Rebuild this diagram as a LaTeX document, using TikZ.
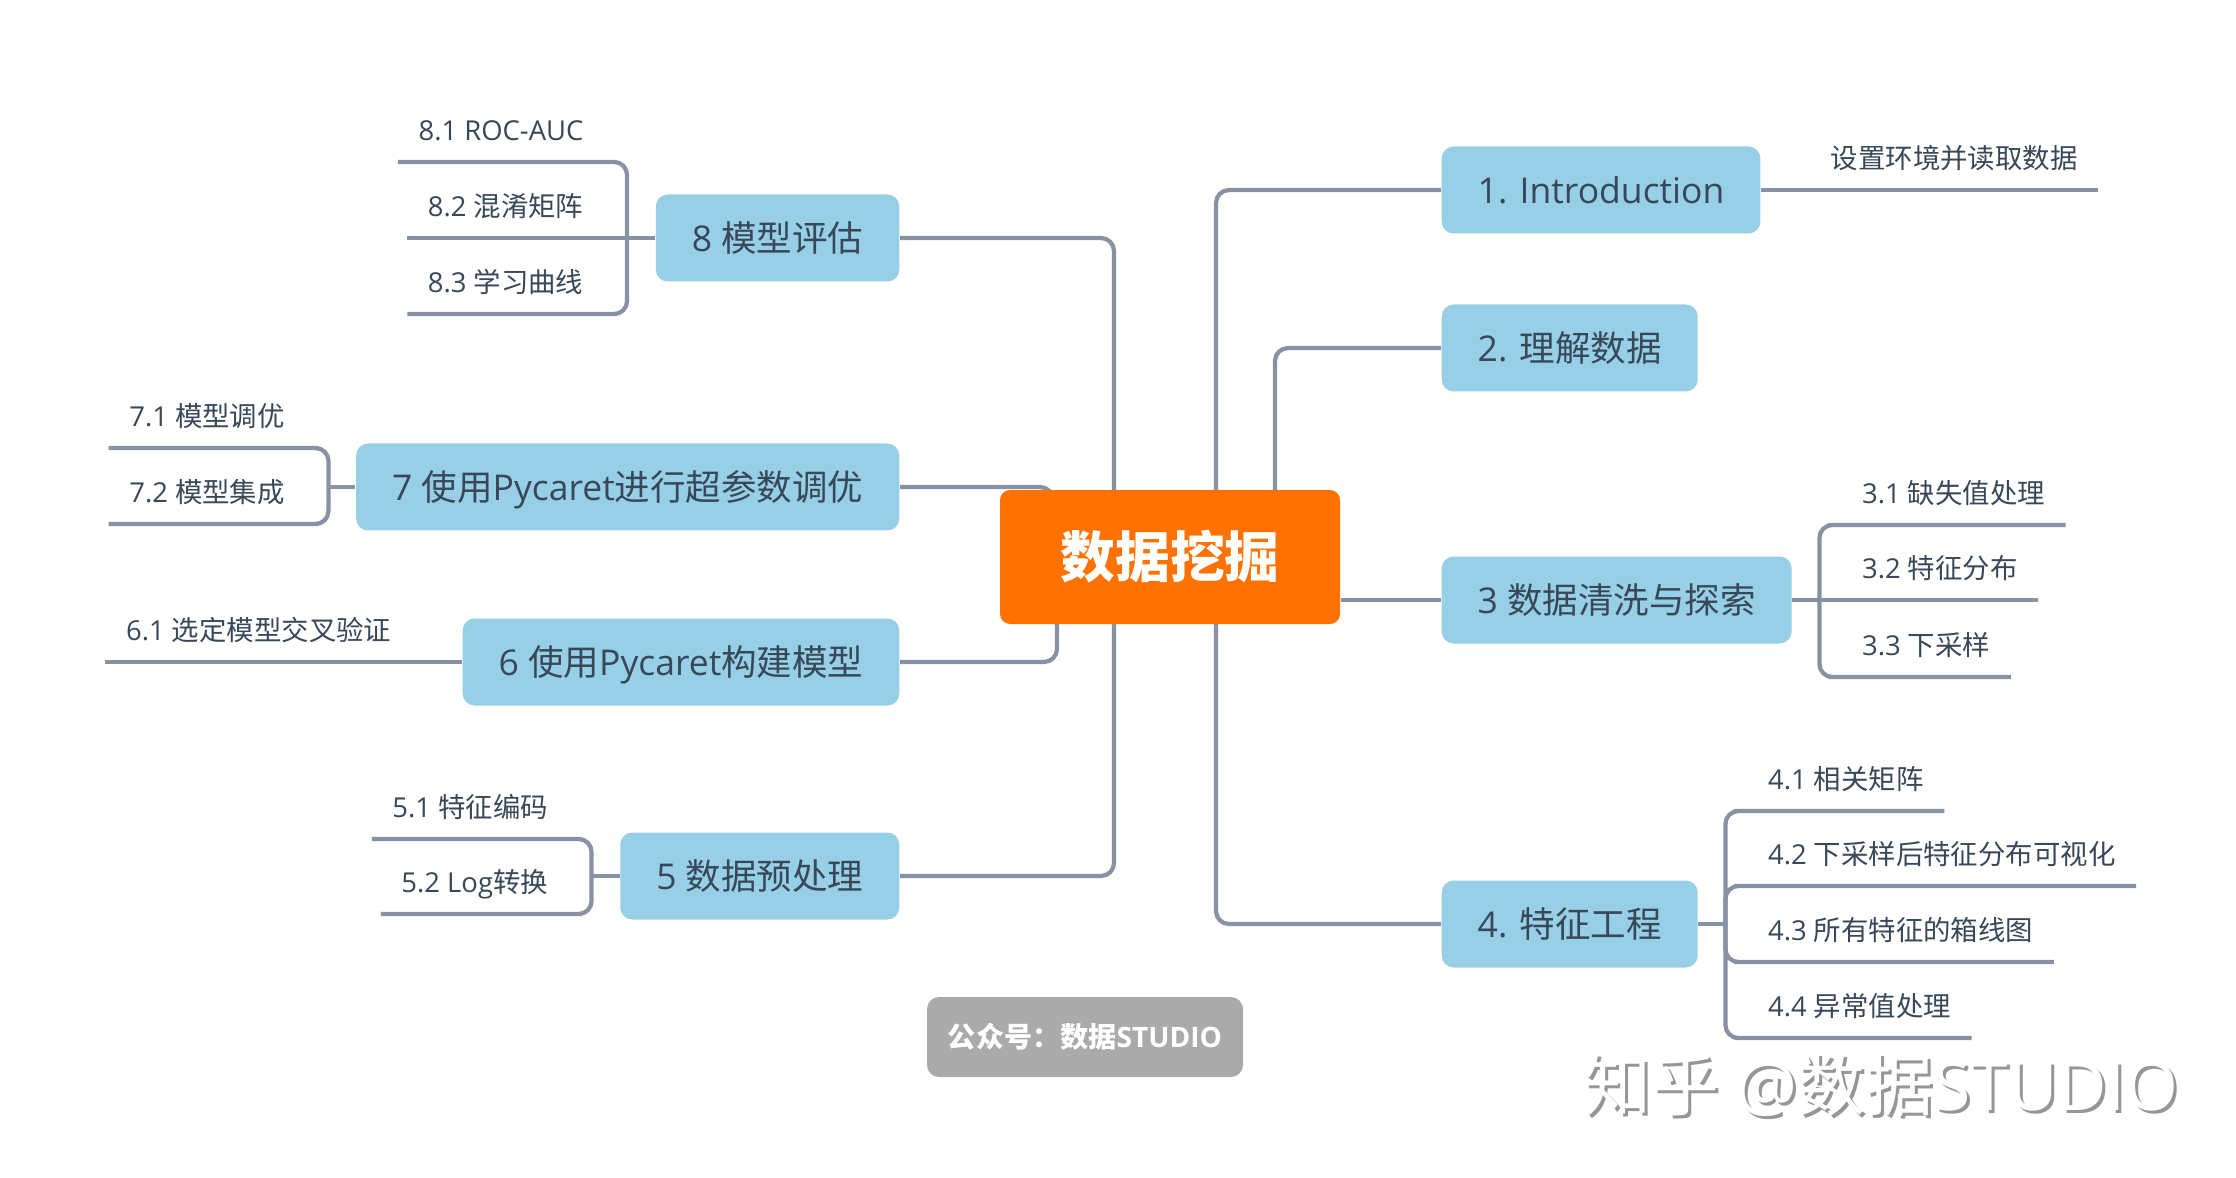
\documentclass[tikz,border=0pt]{standalone}
\usepackage{fontspec}
\setmainfont{Open Sans}
\newfontfamily\cjkfont{Noto Sans CJK SC}
\usetikzlibrary{calc,backgrounds}
% CJK characters switch to the CJK family
\XeTeXinterchartokenstate=1
\newXeTeXintercharclass\cjkclass
\newcount\cjkcode
\cjkcode="3000
\loop
	\XeTeXcharclass\cjkcode=\cjkclass
	\ifnum\cjkcode<"9FFF \advance\cjkcode by 1
\repeat
\cjkcode="FF00
\loop
	\XeTeXcharclass\cjkcode=\cjkclass
	\ifnum\cjkcode<"FFEF \advance\cjkcode by 1
\repeat
\XeTeXinterchartoks 0 \cjkclass = {\begingroup\cjkfont}
\XeTeXinterchartoks 4095 \cjkclass = {\begingroup\cjkfont}
\XeTeXinterchartoks \cjkclass 0 = {\endgroup}
\XeTeXinterchartoks \cjkclass 4095 = {\endgroup}
\definecolor{rootorange}{RGB}{255,113,0}
\definecolor{topicblue}{RGB}{150,207,230}
\definecolor{textdark}{RGB}{56,72,88}
\definecolor{linegray}{RGB}{136,146,162}
\definecolor{badgegray}{RGB}{170,170,170}
\definecolor{shadowgray}{RGB}{150,150,150}
\tikzset{
	link/.style={draw=linegray,line width=1.2pt,rounded corners=0.13cm},
	rootbox/.style={fill=rootorange,text=white,rounded corners=0.1cm,
		minimum width=3.40cm,minimum height=1.34cm,
		font=\bfseries\fontsize{15.6pt}{18pt}\selectfont},
	topic/.style={fill=topicblue,text=textdark,rounded corners=0.12cm,
		minimum height=0.87cm,inner xsep=0.36cm,inner ysep=0pt,
		text height=0.31cm,text depth=0.045cm,
		font=\fontsize{10.1pt}{12pt}\selectfont},
	leaf/.style={text=textdark,inner xsep=0.2cm,inner ysep=0pt,
		text height=0.26cm,text depth=0.21cm,
		font=\fontsize{7.8pt}{10pt}\selectfont},
	leafr/.style={leaf,anchor=south west},
	leafl/.style={leaf,anchor=south east},
	badge/.style={fill=badgegray,text=white,rounded corners=0.12cm,
		minimum width=3.16cm,minimum height=0.80cm,
		font=\bfseries\fontsize{8pt}{10pt}\selectfont},
	wmtext/.style={font=\fontsize{19.3pt}{22pt}\selectfont}
}

\begin{document}
\begin{tikzpicture}
	
	\useasboundingbox (0,0) rectangle (22.36,-11.78);
	
	% -------------------------------------------------
	% central topic and main topics
	% -------------------------------------------------
	\node[rootbox] (root) at (11.70,-5.57) {数据挖掘};
	
	\node[topic,anchor=west] (n1) at (14.41,-1.90) {1. Introduction};
	\node[topic,anchor=west] (n2) at (14.41,-3.48) {2. 理解数据};
	\node[topic,anchor=west] (n3) at (14.41,-6.00) {3 数据清洗与探索};
	\node[topic,anchor=west] (n4) at (14.41,-9.24) {4. 特征工程};
	\node[topic,anchor=east] (n5) at (9.00,-8.76) {5 数据预处理};
	\node[topic,anchor=east] (n6) at (9.00,-6.62) {6 使用Pycaret构建模型};
	\node[topic,anchor=east] (n7) at (9.00,-4.87) {7 使用Pycaret进行超参数调优};
	\node[topic,anchor=east] (n8) at (9.00,-2.38) {8 模型评估};
	
	% -------------------------------------------------
	% subtopics
	% -------------------------------------------------
	\node[leafr] (c11) at ($(n1.east)+(0.49,0)$) {设置环境并读取数据};
	
	\node[leafr] (c31) at ($(n3.east)+(0.49,0.75)$) {3.1 缺失值处理};
	\node[leafr] (c32) at ($(n3.east)+(0.49,0)$) {3.2 特征分布};
	\node[leafr] (c33) at ($(n3.east)+(0.49,-0.77)$) {3.3 下采样};
	
	\node[leafr] (c41) at ($(n4.east)+(0.49,1.13)$) {4.1 相关矩阵};
	\node[leafr] (c42) at ($(n4.east)+(0.49,0.38)$) {4.2 下采样后特征分布可视化};
	\node[leafr] (c43) at ($(n4.east)+(0.49,-0.38)$) {4.3 所有特征的箱线图};
	\node[leafr] (c44) at ($(n4.east)+(0.49,-1.14)$) {4.4 异常值处理};
	
	\node[leafl] (c51) at ($(n5.west)+(-0.51,0.37)$) {5.1 特征编码};
	\node[leafl] (c52) at ($(n5.west)+(-0.51,-0.38)$) {5.2 Log转换};
	
	\node[leafl] (c61) at ($(n6.west)+(-0.50,0)$) {6.1 选定模型交叉验证};
	
	\node[leafl] (c71) at ($(n7.west)+(-0.50,0.39)$) {7.1 模型调优};
	\node[leafl] (c72) at ($(n7.west)+(-0.50,-0.37)$) {7.2 模型集成};
	
	\node[leafl] (c81) at ($(n8.west)+(-0.51,0.76)$) {8.1 ROC-AUC};
	\node[leafl] (c82) at ($(n8.west)+(-0.51,0)$) {8.2 混淆矩阵};
	\node[leafl] (c83) at ($(n8.west)+(-0.51,-0.76)$) {8.3 学习曲线};
	
	% -------------------------------------------------
	% branches from the central topic (behind it)
	% -------------------------------------------------
	\begin{scope}[on background layer]
		\fill[white] (0,0) rectangle (22.36,-11.78);
		\draw[link] ([xshift=0.46cm]root.center) |- (n1.west);
		\draw[link] ([xshift=1.05cm]root.center) |- (n2.west);
		\draw[link] (root.east |- n3.west) -- (n3.west);
		\draw[link] ([xshift=0.46cm]root.center) |- (n4.west);
		\draw[link] ([xshift=-0.56cm]root.center) |- (n5.east);
		\draw[link] ([xshift=-1.13cm]root.center) |- (n6.east);
		\draw[link] ([xshift=-1.17cm]root.center) |- (n7.east);
		\draw[link] ([xshift=-0.56cm]root.center) |- (n8.east);
	\end{scope}
	
	% -------------------------------------------------
	% branches to the subtopics
	% -------------------------------------------------
	\draw[link] (n1.east) -- (c11.south west) -- (c11.south east);
	
	\draw[link] (n3.east) -- (c32.south west) -- (c32.south east);
	\draw[link] ([xshift=0.27cm]n3.east) |- (c31.south west) -- (c31.south east);
	\draw[link] ([xshift=0.27cm]n3.east) |- (c33.south west) -- (c33.south east);
	
	\draw[link] (n4.east) -- ++(0.27,0);
	\foreach \c in {c41,c42,c43,c44}
		\draw[link] ([xshift=0.27cm]n4.east) |- (\c.south west) -- (\c.south east);
	
	\draw[link] (n5.west) -- ++(-0.28,0);
	\foreach \c in {c51,c52}
		\draw[link] ([xshift=-0.28cm]n5.west) |- (\c.south east) -- (\c.south west);
	
	\draw[link] (n6.west) -- (c61.south east) -- (c61.south west);
	
	\draw[link] (n7.west) -- ++(-0.27,0);
	\foreach \c in {c71,c72}
		\draw[link] ([xshift=-0.27cm]n7.west) |- (\c.south east) -- (\c.south west);
	
	\draw[link] (n8.west) -- (c82.south east) -- (c82.south west);
	\draw[link] ([xshift=-0.28cm]n8.west) |- (c81.south east) -- (c81.south west);
	\draw[link] ([xshift=-0.28cm]n8.west) |- (c83.south east) -- (c83.south west);
	
	% -------------------------------------------------
	% badge and watermark
	% -------------------------------------------------
	\node[badge] (badge) at (10.85,-10.37) {公众号：数据STUDIO};
	
	\node[wmtext,text=shadowgray] (wmback) at (18.84,-10.88) {知乎 @数据STUDIO};
	\node[wmtext,text=white] (wm) at (18.81,-10.85) {知乎 @数据STUDIO};
	
\end{tikzpicture}
\end{document}
